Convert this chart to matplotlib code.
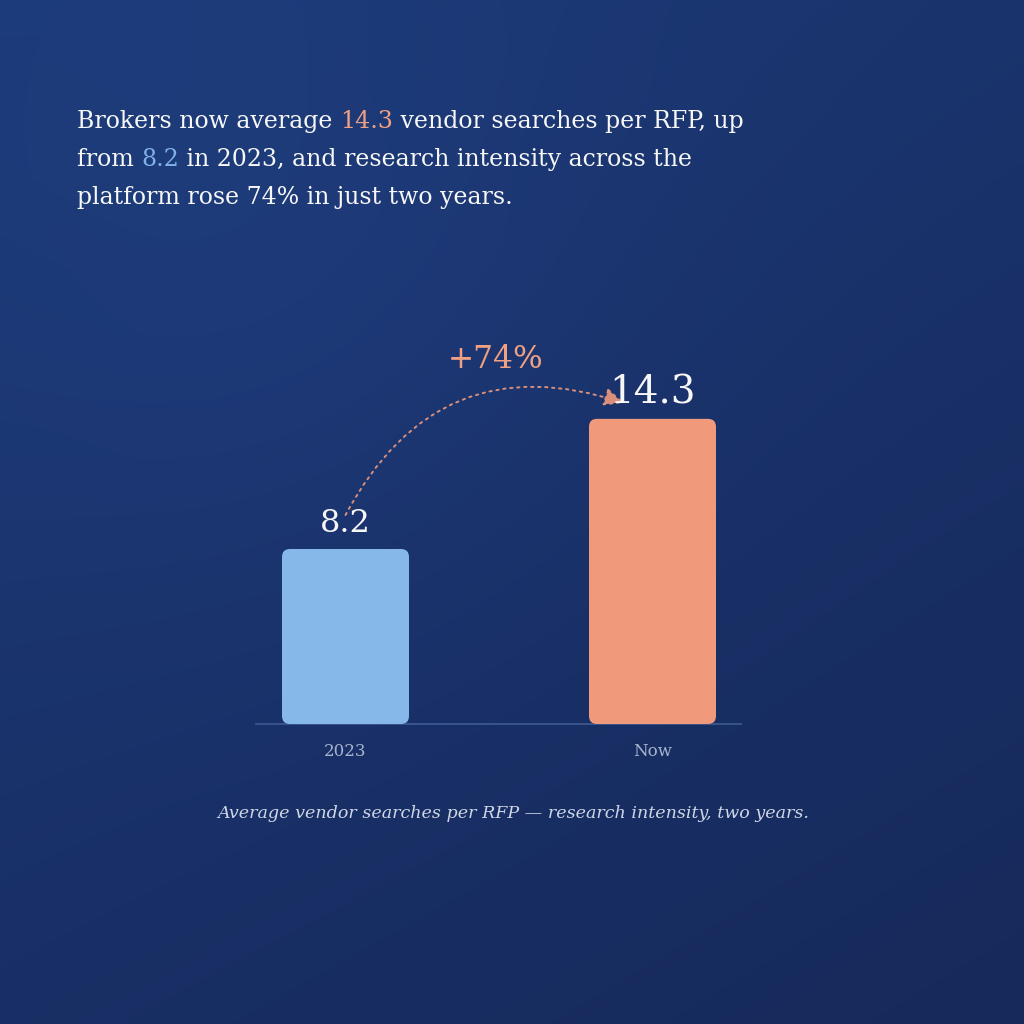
import numpy as np
import matplotlib
matplotlib.use("Agg")
import matplotlib.pyplot as plt
from matplotlib.patches import FancyBboxPatch

# ---------------- data ----------------
categories = ["2023", "Now"]
values = [8.2, 14.3]
value_labels = ["8.2", "14.3"]
change_label = "+74%"
headline_runs = [
    [("Brokers now average ", "w"), ("14.3", "o"), (" vendor searches per RFP, up", "w")],
    [("from ", "w"), ("8.2", "b"), (" in 2023, and research intensity across the", "w")],
    [("platform rose 74% in just two years.", "w")],
]
caption = "Average vendor searches per RFP \u2014 research intensity, two years."

# ---------------- style ----------------
BLUE = "#86b8ea"
ORANGE = "#f09a7b"
WHITE = "#f7f7f7"
TXT_BLUE = "#7fb1e6"
TXT_ORANGE = "#f0a083"
TICK = "#a9b5cf"
CAP = "#cfd6e6"
AXLINE = "#3f5a93"
SERIF = ["DejaVu Serif"]
run_colors = {"w": WHITE, "o": TXT_ORANGE, "b": TXT_BLUE}

W = H = 1024
fig = plt.figure(figsize=(10.24, 10.24), dpi=100)

# background gradient
bg = fig.add_axes([0, 0, 1, 1])
yy, xx = np.mgrid[0:H, 0:W] / W
c_tl = np.array([0x1c, 0x3a, 0x78]) / 255
c_br = np.array([0x16, 0x29, 0x5a]) / 255
t = np.clip((xx * 0.45 + yy * 0.75) / 1.2, 0, 1)[..., None]
img = c_tl * (1 - t) + c_br * t
glow = np.exp(-(((xx - 0.27) ** 2 + (yy - 0.27) ** 2) / 0.12))[..., None]
img = img + glow * (np.array([0x1f, 0x3e, 0x80]) / 255 - c_tl) * 1.0
img = np.clip(img, 0, 1)
bg.imshow(img, extent=[0, 1, 0, 1], aspect="auto", origin="upper", zorder=0)
bg.set_xlim(0, 1)
bg.set_ylim(0, 1)
bg.axis("off")

# main axes: baseline at y=724px, spanning x 256..741 px
ax_left, ax_right = 256, 741
ax_bottom, ax_top = 724, 330
ax = fig.add_axes([ax_left / W, 1 - ax_bottom / H, (ax_right - ax_left) / W,
                   (ax_bottom - ax_top) / H])
ax.patch.set_alpha(0)
px_per_x = 307.0
px_per_y = 21.34
xmin = -(345.5 - ax_left) / px_per_x
xmax = 1 + (ax_right - 652.5) / px_per_x
ax.set_xlim(xmin, xmax)
ax.set_ylim(0, (ax_bottom - ax_top) / px_per_y)
for s in ["top", "right", "left"]:
    ax.spines[s].set_visible(False)
ax.spines["bottom"].set_color(AXLINE)
ax.spines["bottom"].set_linewidth(1.2)
ax.spines["bottom"].set_zorder(1)
ax.set_yticks([])

xpos = np.arange(len(categories))
bw = 127 / px_per_x
bars = ax.bar(xpos, values, width=bw, color=[BLUE, ORANGE])
aspect = px_per_x / px_per_y
r = 8 / px_per_x
for b, col in zip(bars, [BLUE, ORANGE]):
    b.set_visible(False)
    p = FancyBboxPatch((b.get_x(), b.get_y()), b.get_width(), b.get_height(),
                       boxstyle=f"round,pad=0,rounding_size={r}",
                       mutation_aspect=aspect, facecolor=col, edgecolor="none",
                       zorder=2)
    ax.add_patch(p)

ax.set_xticks(xpos)
ax.set_xticklabels(categories, fontsize=12, color=TICK, family=SERIF)
ax.tick_params(axis="x", length=0, pad=14)

# value labels
val_sizes = [23, 28]
for i, (v, lab) in enumerate(zip(values, value_labels)):
    gap = [17, 15][i]
    ax.text(xpos[i], v + gap / px_per_y, lab, ha="center", va="baseline",
            fontsize=val_sizes[i], color=WHITE, family=SERIF, zorder=4)

# change annotation (curved dotted arrow)
start = (xpos[0], (ax_bottom - 515) / px_per_y)
end = (xpos[1] + (624 - 652.5) / px_per_x, (ax_bottom - 403) / px_per_y)
ax.annotate("", xy=end, xytext=start,
            arrowprops=dict(arrowstyle="-|>,head_length=1.2,head_width=0.55",
                            connectionstyle="arc3,rad=-0.42",
                            color="#d98f7a", lw=1.4, linestyle=(0, (1.2, 2.4)),
                            shrinkA=0, shrinkB=0),
            zorder=3, annotation_clip=False)
ax.text(xpos[0] + (496 - 345.5) / px_per_x, (ax_bottom - 368) / px_per_y,
        change_label, ha="center", va="baseline", fontsize=22.5,
        color=TXT_ORANGE, family=SERIF, zorder=4)

# headline with colored runs
fig.canvas.draw()
renderer = fig.canvas.get_renderer()
baselines = [128, 166, 204]
for line, yb in zip(headline_runs, baselines):
    x = 77
    for txt, ck in line:
        tt = fig.text(x / W, 1 - yb / H, txt, fontsize=17, color=run_colors[ck],
                      family=SERIF, ha="left", va="baseline")
        bb = tt.get_window_extent(renderer=renderer)
        x = x + bb.width

fig.text(513 / W, 1 - 818 / H, caption, ha="center", va="baseline",
         fontsize=12.6, style="italic", color=CAP, family=SERIF)

fig.savefig("out.png", dpi=100)
